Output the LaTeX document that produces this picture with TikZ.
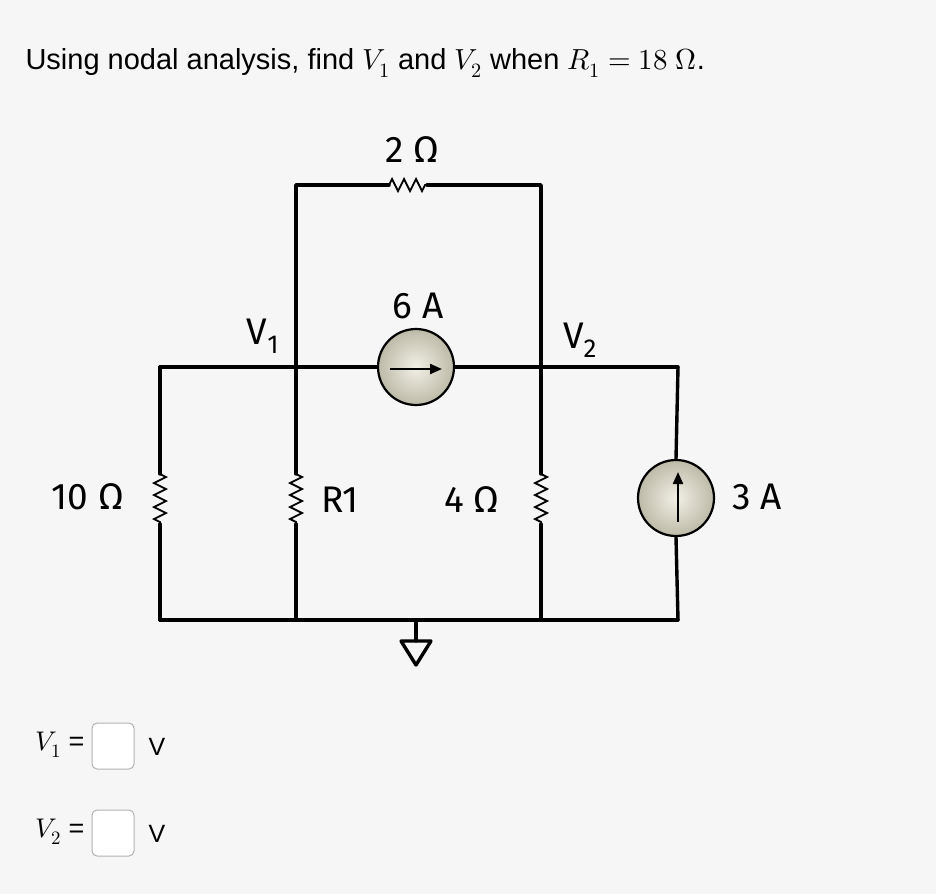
\documentclass[tikz,border=0pt]{standalone}
\usepackage{fontspec}
\setmainfont{Liberation Sans}
\newfontfamily\lblfont{Fira Sans}
\usepackage{unicode-math}
\setmathfont{Latin Modern Math}
\usetikzlibrary{decorations.pathmorphing,arrows.meta}
\definecolor{srcout}{HTML}{BDBAA8}
\definecolor{srcin}{HTML}{F2F0E6}
\begin{document}
\begin{tikzpicture}[x=1pt,y=-1pt,
  wire/.style={line width=3.4pt,line cap=round,line join=round},
  res/.style={line width=1.8pt,decorate,decoration={zigzag,segment length=12pt,amplitude=6pt}},
  lbl/.style={font=\lblfont\fontsize{37}{42}\selectfont},
  src/.style={circle,draw,line width=2.2pt,minimum size=76pt,inner sep=0pt,inner color=srcin,outer color=srcout},
  ansbox/.style={draw=gray!60,line width=1pt,rounded corners=5pt,fill=white,minimum width=42pt,minimum height=46pt}]
\fill[gray!7] (0,0) rectangle (936,894);
\useasboundingbox (0,0) rectangle (936,894);
\node[anchor=west,font=\fontsize{29}{34}\selectfont] (title) at (22,63) {Using nodal analysis, find $V_1$ and $V_2$ when $R_1 = 18\ \Omega$.};
\coordinate (tl) at (296,185); \coordinate (tr) at (541,185);
\coordinate (ml) at (160,367); \coordinate (mr) at (678,367);
\coordinate (bl) at (160,620); \coordinate (br) at (678,620);
\coordinate (v1) at (296,367); \coordinate (v2) at (541,367);
\coordinate (b1) at (296,620); \coordinate (b2) at (541,620);
\coordinate (r2a) at (389,185); \coordinate (r2b) at (427,185);
\draw[wire] (v1) -- (tl) -- (r2a);
\draw[res] (r2a) -- (r2b);
\draw[wire] (r2b) -- (tr) -- (v2);
\node[lbl] (l2) at (412,150) {2 Ω};
\node[src] (s6) at (416,367) {};
\draw[wire] (ml) -- (v1) -- (s6.west);
\draw[wire] (s6.east) -- (v2) -- (mr);
\draw[-{Triangle[length=12pt,width=10pt]},line width=2.2pt] (390,369) -- (442,369);
\node[lbl] (l6) at (418,306) {6 A};
\node[lbl] (lv1) at (263,336) {V\textsubscript{1}};
\node[lbl] (lv2) at (580,340) {V\textsubscript{2}};
\coordinate (ra1) at (160,474); \coordinate (ra2) at (160,524);
\draw[wire] (ml) -- (ra1); \draw[res] (ra1) -- (ra2); \draw[wire] (ra2) -- (bl);
\node[lbl] (l10) at (88,497) {10 Ω};
\coordinate (rb1) at (296,474); \coordinate (rb2) at (296,524);
\draw[wire] (v1) -- (rb1); \draw[res] (rb1) -- (rb2); \draw[wire] (rb2) -- (b1);
\node[lbl] (lr1) at (340,500) {R1};
\coordinate (rc1) at (541,474); \coordinate (rc2) at (541,524);
\draw[wire] (v2) -- (rc1); \draw[res] (rc1) -- (rc2); \draw[wire] (rc2) -- (b2);
\node[lbl] (l4) at (472,500) {4 Ω};
\node[src] (s3) at (676,498) {};
\draw[wire] (mr) -- (s3.north); \draw[wire] (s3.south) -- (br);
\draw[-{Triangle[length=12pt,width=10pt]},line width=2.2pt] (678,522) -- (678,472);
\node[lbl] (l3) at (757,497) {3 A};
\draw[wire] (bl) -- (br);
\coordinate (g0) at (416,620); \coordinate (g1) at (416,641);
\draw[wire] (g0) -- (g1);
\draw[line width=3.4pt,line join=round] (401,641) -- (431,641) -- (416,665) -- cycle;
\node[anchor=east,font=\fontsize{27}{32}\selectfont] (a1) at (88,745) {$V_1$ =};
\node[ansbox] (box1) at (113,746) {};
\node[font=\fontsize{25}{30}\selectfont] (u1) at (157,747) {V};
\node[anchor=east,font=\fontsize{27}{32}\selectfont] (a2) at (88,832) {$V_2$ =};
\node[ansbox] (box2) at (113,833) {};
\node[font=\fontsize{25}{30}\selectfont] (u2) at (157,834) {V};
\end{tikzpicture}
\end{document}
